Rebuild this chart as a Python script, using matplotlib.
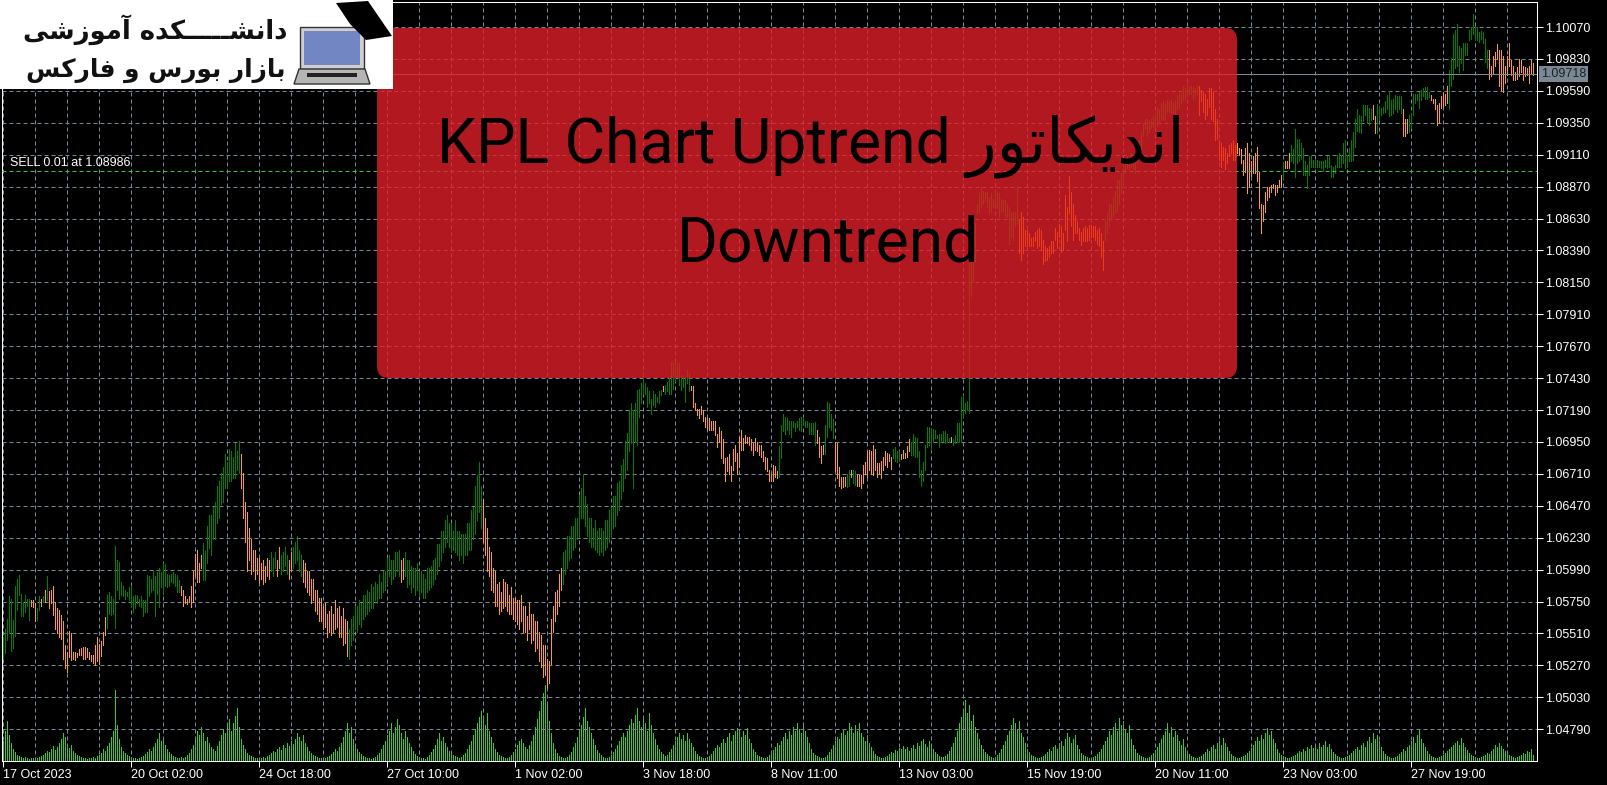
import numpy as np
import matplotlib
matplotlib.use("Agg")
import matplotlib.pyplot as plt
from matplotlib.patches import FancyBboxPatch, Rectangle, Polygon
from matplotlib.transforms import blended_transform_factory
from matplotlib.ticker import MultipleLocator
from matplotlib.font_manager import findfont, FontProperties
from matplotlib.ft2font import FT2Font

# ---------------- data (H1 bars, prices as pips above 1.0000) ----------------
bar_high_pips = [
548,554,562,579,577,561,587,592,595,581, 575,580,577,577,576,576,574,570,579,577,
579,584,594,583,584,587,575,570,569,565, 560,542,537,553,551,537,537,536,539,540,
541,541,540,537,535,535,542,548,543,545, 552,563,580,582,579,577,617,606,605,590,
587,584,582,586,586,579,580,580,577,579, 576,576,595,594,592,599,594,597,600,597,
604,603,596,595,596,597,596,595,591,587, 584,579,577,579,587,598,611,614,604,610,
619,613,632,640,
640,646,650,662,666,672,676,686,680,690, 688,684,694,688,696,686,672,650,642,630,
622,614,614,608,608,604,606,602,608,606, 612,608,612,606,616,610,612,616,610,606,
612,616,620,624,614,610,606,604,598,598, 592,592,584,584,578,578,572,574,566,568,
572,566,576,570,572,564,570,562,560,554, 562,564,572,572,576,574,580,580,584,582,
588,586,590,588,596,590,598,598,608,610, 606,606,612,612,614,606,608,612,606,606,
602,600,600,604,598,598,596,592,600,600, 602,606,608,618,618,628,628,636,640,634,
634,628,636,628,628,626,626,626,634,634, 644,646,662,670,680,662,652,638,630,616,
612,600,598,588,590,582,592,590,588,580, 586,578,578,576,576,580,572,572,564,574,
566,566,560,560,552,550,542,542,532,530, 562,572,582,584,596,600,612,614,624,624,
632,632,638,638,654,660,670,654,648,638, 638,630,636,628,630,630,628,636,636,644,
646,654,654,664,666,678,682,696,702,718, 724,
719,724,734,735,739,747,739,736,733,727,733,731,729,733,734,
737,738,740,743,755,755,755,754,754,745,743,744,749,747,737,
737,724,720,720,722,719,714,713,713,711,711,711,701,706,703,
697,683,684,686,677,690,693,687,699,704,698,700,699,699,697,
694,698,695,693,693,688,684,683,674,671,678,677,673,692,708,
716,714,713,711,711,711,709,711,713,714,714,711,711,709,709,
709,710,704,699,692,693,708,725,724,716,712,695,694,676,669,
669,669,671,674,674,674,673,671,670,670,678,680,688,689,688,
693,690,679,679,681,684,688,687,686,684,690,691,688,688,686,
689,687,692,697,695,701,699,698,688,674,680,693,706,706,705,
705,704,700,701,701,703,703,701,698,699,697,700,709,709,729,
730,724,726,835, 830,840,860,
874,882,887,884,883,883,879,882,878,884,883,882,878,
877,877,874,872,867,868,868,886,862,868, 864,854,854,852,848,849,853,854,856,854,
847,842,841,842,846,846,856,853,859,857, 852,881,872,895,883,874,866,861,856,853,
856,857,856,858,858,857,857,854,856,852, 846,861,867,874,874,879,884,891,892,897,
905,908,910,907,912,910,908,915,922,927, 935,938,938,936,938,940,942,946,945,950,
951,950,952,951,952,950,951,956,958,957, 963,961,965,963,963,962,961,963,963,960,
958,957,953,961,961,958,945,938,922,920, 917,916,912,918,920,922,918,
920,916,915,907,916,920,912,906,910,912, 917,898,874,873,883,887,887,888,889,888,
888,892,896,905,906,906,912,918,915,930, 923,923,920,916,906,903,910,910,907,907,
907,906,906,906,907,910,910,903,902,903, 911,912,911,920,922,911,916,922,928,938,
945,941,940,948,948,948,946,945,948,940, 949,947,946,947,951,956,959,952,953,956,
955,955,955,945,938,938,941,942,957,957, 957,958,960,961,962,962,958,956,953,953,
948,950,955,958,957,963,975,984,1002,1005, 1009,993,991,995,995,995,1005,1007,1017,1007,
1007,1003,1004,1003,998,990,990,978,985,988, 994,990,990,985,978,985,995,982,978,973,
977,983,982,978,977,976,978,982,980,
]
bar_low_pips = [
532,536,546,552,538,540,549,569,580,564, 564,567,572,561,572,571,560,561,569,572,
575,575,576,570,574,565,554,551,548,547, 532,525,522,533,531,532,531,533,535,535,
532,532,533,532,530,529,527,530,528,534, 542,550,555,566,565,566,555,584,577,580,
579,577,579,576,572,567,570,574,572,571, 564,567,567,579,582,584,564,581,571,586,
581,587,586,587,590,589,587,582,582,580, 572,574,573,575,571,575,594,590,590,600,
591,591,604,615,
610,622,622,634,638,648,650,660,660,666, 666,668,668,674,672,660,638,620,598,606,
596,598,592,596,590,592,588,590,594,592, 598,594,600,594,600,596,598,602,596,592,
598,600,604,606,598,594,590,586,582,580, 574,576,568,566,560,560,554,556,548,552,
550,552,554,556,548,548,542,544,534,532, 542,546,554,552,558,556,562,564,566,568,
570,570,576,574,578,578,582,584,588,594, 588,592,594,598,594,590,592,594,586,588,
582,586,580,584,580,582,578,578,582,584, 586,588,592,596,602,606,612,616,620,616,
612,614,612,610,606,610,604,610,610,614, 614,622,626,636,642,630,620,610,598,594,
584,582,572,572,566,568,570,572,568,566, 566,562,560,558,554,560,552,552,546,554,
544,546,538,540,530,526,518,520,510,514, 528,552,560,566,572,584,588,596,600,606,
608,614,616,622,624,638,638,632,624,620, 616,616,614,612,610,612,610,614,616,620,
624,630,632,640,644,652,658,668,674,688, 694,
660,695,693,714,724,731,731,721,724,716,723,721,725,724,730,
733,731,733,731,731,735,741,744,738,734,736,725,739,733,734,
721,719,715,713,716,711,706,705,704,704,704,700,691,695,683,
679,666,673,671,666,674,681,671,676,689,689,694,694,693,689,
685,689,688,685,684,681,675,673,666,666,666,669,668,669,683,
703,701,704,701,699,706,703,706,704,703,708,706,706,701,701,
701,693,694,684,679,686,686,699,706,704,698,673,668,662,660,
661,662,661,662,669,664,663,662,662,660,664,671,669,674,671,
670,674,669,671,668,674,678,676,681,675,683,681,680,681,682,
683,683,684,688,685,685,684,684,669,662,666,674,691,693,689,
696,698,698,691,695,696,694,695,695,695,693,694,695,695,695,
714,717,719,717, 805,815,830,
867,869,872,874,876,872,867,869,872,874,871,864,868,
869,864,864,844,849,847,857,859,837,832, 837,842,842,842,842,842,846,841,842,839,
829,831,832,834,837,837,847,841,849,838, 839,854,846,867,857,847,852,852,847,843,
846,846,846,847,849,849,847,844,842,834, 824,846,852,857,862,864,867,869,874,882,
887,897,901,900,902,900,897,905,910,915, 925,930,925,928,931,932,932,933,935,937,
938,937,943,943,942,942,941,945,947,950, 952,953,956,957,957,953,955,957,941,951,
943,938,941,947,938,936,922,923,907,902, 907,900,905,910,912,907,907,
912,911,905,896,898,882,887,895,897,897, 891,871,852,861,868,877,879,883,886,881,
883,887,887,893,901,901,901,906,905,894, 905,906,908,896,896,886,896,902,902,902,
902,902,901,899,902,901,902,894,894,897, 902,902,902,905,901,902,906,906,907,917,
929,928,927,936,941,935,933,937,938,927, 927,938,941,942,943,945,940,941,942,945,
943,945,942,925,925,927,928,931,941,950, 952,946,952,955,953,953,954,952,950,945,
933,935,946,947,948,950,945,963,968,976, 978,973,980,975,986,986,997,998,1002,997,
997,996,998,995,981,976,968,970,972,978, 983,963,960,958,965,971,978,971,967,967,
968,970,973,967,970,971,965,972,971,
]
# indicator state per run of bars: 'up' (green) / 'down' (orange)
trend_runs = [
('up',14),('down',3),('up',2),('down',1),('up',1),('down',1),('up',1),('down',29),
('up',37),('down',11),('up',19),('down',15),('up',3),('down',2),('up',4),('down',2),
('up',5),('down',23),('up',26),('down',2),('up',39),('down',40),('up',50),('down',1),
('up',13),('down',44),('up',19),('down',4),('up',5),('down',6),('up',2),('down',1),
('up',2),('down',18),('up',4),('down',5),('up',20),('down',1),('up',33),('down',43),
('up',47),('down',42),('up',1),('down',3),('up',41),('down',2),('up',13),('down',3),
('up',11),('down',9),('up',20),('down',23),
]
# tick volume (hundreds)
volume_hundreds = [
20,30,40,26,18,12,9,6,5,4, 3,4,3,2,3,3,2,3,4,5, 6,8,10,9,12,15,11,14,18,22,
28,24,17,13,16,10,8,6,5,4, 3,3,2,3,3,4,3,5,6,8, 12,10,15,18,24,30,71,36,22,14,
10,8,6,5,4,3,3,2,3,4, 5,7,9,12,10,14,18,22,28,20, 24,16,12,9,7,5,4,3,3,4,
3,4,6,8,12,16,22,30,26,34, 28,20,24,18,14,12,10,15,20,26, 32,28,36,42,30,38,45,53,34,22,
16,12,8,6,5,4,3,3,2,3, 4,3,5,6,8,10,9,12,14,11, 16,13,18,15,20,17,22,28,24,20,
26,18,14,10,8,6,5,4,3,3, 2,3,4,5,7,9,12,10,14,18, 24,30,38,28,34,22,16,12,9,7,
5,4,3,3,2,3,4,6,8,12, 16,20,26,30,38,28,34,42,36,28, 22,30,24,18,14,10,7,5,4,3,
3,2,4,6,9,12,16,22,28,20, 24,18,14,10,8,6,5,4,3,4, 6,8,12,16,20,26,32,38,44,50,
42,36,48,30,24,18,12,9,6,5, 4,3,3,4,6,9,12,16,20,22, 18,14,12,16,20,26,34,42,50,60,
68,76,58,40,28,18,12,8,5,4, 3,3,4,6,9,14,18,24,30,36, 44,53,40,34,28,22,16,11,8,6,
4,3,3,4,6,9,12,16,20,24, 28,24,30,36,42,38,46,53,40,34, 44,38,30,48,36,28,22,16,12,9,
7,5,6,9,12,16,20,24,28,22, 26,20,28,22,18,14,10,7,5,4, 3,3,4,5,7,10,13,16,14,18,
22,18,24,28,20,26,30,33,28,24, 30,26,33,22,18,12,9,6,5,4, 3,3,4,6,8,11,14,18,16,20,
24,28,22,30,26,34,30,38,32,28, 38,30,24,18,12,8,6,5,4,3, 3,4,6,9,12,16,20,24,22,28,
32,26,30,38,34,28,36,30,38,28, 24,20,26,18,14,10,7,5,4,3, 3,4,5,7,9,8,11,10,13,12,
15,12,14,10,13,16,12,18,15,20, 22,17,14,20,16,12,9,7,5,4, 4,5,7,10,14,18,24,30,38,44,
52,61,48,56,40,46,34,28,22,16, 12,9,7,5,4,3,4,6,8,12, 16,20,26,30,36,43,38,32,40,28,
24,18,12,9,6,5,4,3,3,4, 5,7,9,12,10,14,16,12,18,20, 15,22,28,24,18,22,26,16,12,8,
6,5,4,3,3,4,5,7,9,12, 16,20,24,30,26,34,38,30,43,36, 40,32,28,36,22,16,12,8,6,5,
4,3,3,4,6,8,11,14,18,22, 26,30,38,28,34,24,30,26,20,16, 22,14,10,7,5,4,3,3,4,5,
7,9,12,10,14,16,12,18,20,16, 23,18,14,10,7,5,4,3,3,4, 5,6,8,10,13,16,20,24,20,26,
22,28,33,26,30,22,18,12,8,6, 5,4,3,3,4,5,6,8,10,9, 12,10,14,12,16,13,15,12,18,14,
16,20,14,17,12,9,7,5,4,3, 3,4,5,6,8,10,12,14,11,16, 18,14,20,24,18,28,22,26,20,14,
10,7,5,4,3,3,4,5,7,9, 12,10,14,16,20,24,18,26,31,22, 18,14,10,7,5,4,3,3,4,5,
6,8,10,12,14,16,18,20,16,23, 18,14,11,8,6,5,4,3,3,4, 5,6,8,7,10,12,16,14,18,15,
12,10,8,6,5,4,3,4,5,6, 8,7,10,9,12,6,
]
price_tick_labels = ['1.10070','1.09830','1.09590','1.09350','1.09110','1.08870',
                     '1.08630','1.08390','1.08150','1.07910','1.07670','1.07430',
                     '1.07190','1.06950','1.06710','1.06470','1.06230','1.05990',
                     '1.05750','1.05510','1.05270','1.05030','1.04790']
time_tick_bars = [0, 64, 128, 192, 256, 320, 384, 448, 512, 576, 640, 704]
time_tick_labels = ['17 Oct 2023', '20 Oct 02:00', '24 Oct 18:00', '27 Oct 10:00',
                    '1 Nov 02:00', '3 Nov 18:00', '8 Nov 11:00', '13 Nov 03:00',
                    '15 Nov 19:00', '20 Nov 11:00', '23 Nov 03:00', '27 Nov 19:00']
current_price = 1.09718
order_price = 1.08986
order_label = 'SELL 0.01 at 1.08986'
title_latin = 'KPL Chart Uptrend'
title_persian = 'اندیکاتور'
title_line2 = 'Downtrend'
logo_line1 = 'دانشـــــکده آموزشی'
logo_line2 = 'بازار بورس و فارکس'

# ---------------- minimal Persian shaping (presentation forms, visual order) ----------------
_dv = FT2Font(findfont(FontProperties(family='DejaVu Sans')))
_has_fa = _dv.get_char_index(0xFB8E) != 0 and _dv.get_char_index(0xFBFC) != 0
FORMS = {
    '\u0627': ('\uFE8D', '\uFE8E', None, None),
    '\u0622': ('\uFE81', '\uFE82', None, None),
    '\u0628': ('\uFE8F', '\uFE90', '\uFE91', '\uFE92'),
    '\u062A': ('\uFE95', '\uFE96', '\uFE97', '\uFE98'),
    '\u062F': ('\uFEA9', '\uFEAA', None, None),
    '\u0631': ('\uFEAD', '\uFEAE', None, None),
    '\u0632': ('\uFEAF', '\uFEB0', None, None),
    '\u0633': ('\uFEB1', '\uFEB2', '\uFEB3', '\uFEB4'),
    '\u0634': ('\uFEB5', '\uFEB6', '\uFEB7', '\uFEB8'),
    '\u0641': ('\uFED1', '\uFED2', '\uFED3', '\uFED4'),
    '\u0645': ('\uFEE1', '\uFEE2', '\uFEE3', '\uFEE4'),
    '\u0646': ('\uFEE5', '\uFEE6', '\uFEE7', '\uFEE8'),
    '\u0647': ('\uFEE9', '\uFEEA', '\uFEEB', '\uFEEC'),
    '\u0648': ('\uFEED', '\uFEEE', None, None),
    '\u06A9': ('\uFB8E', '\uFB8F', '\uFB90', '\uFB91') if _has_fa else ('\uFED9', '\uFEDA', '\uFEDB', '\uFEDC'),
    '\u06CC': ('\uFBFC', '\uFBFD', '\uFBFE', '\uFBFF') if _has_fa else ('\uFEEF', '\uFEF0', '\uFEF3', '\uFEF4'),
}
TATWEEL = '\u0640'


def _joins_next(ch):
    return ch == TATWEEL or (ch in FORMS and FORMS[ch][2] is not None)


def _is_letter(ch):
    return ch == TATWEEL or ch in FORMS


def shape_rtl(s):
    out = []
    for k, ch in enumerate(s):
        if ch not in FORMS:
            out.append(ch)
            continue
        prev = s[k - 1] if k > 0 else ''
        nxt = s[k + 1] if k + 1 < len(s) else ''
        jp = prev != '' and _joins_next(prev)
        jn = _joins_next(ch) and nxt != '' and _is_letter(nxt)
        iso, fin, ini, med = FORMS[ch]
        out.append(med if (jp and jn) else fin if jp else ini if jn else iso)
    return ''.join(reversed(out))


# ---------------- figure ----------------
W, H = 1607, 785
PX = 72.0 / 100.0  # one pixel in points
fig = plt.figure(figsize=(W / 100, H / 100), dpi=100, facecolor='black')
rect = [2 / W, (H - 761) / H, 1535 / W, 759 / H]

axv = fig.add_axes(rect)
axv.set_zorder(1)
axv.set_facecolor('black')

ax = fig.add_axes(rect, sharex=axv)
ax.set_zorder(2)
ax.patch.set_visible(False)

n = len(bar_high_pips)
xb = np.arange(n)
hi = 1.0 + np.array(bar_high_pips) / 10000.0
lo = 1.0 + np.array(bar_low_pips) / 10000.0
cols = []
for state, cnt in trend_runs:
    cols += ['#008000' if state == 'up' else '#FFA500'] * cnt

# volumes
vol = np.array(volume_hundreds)
axv.vlines(xb[:len(vol)], 0, vol, colors='#32CD32', linewidth=PX, antialiased=False, snap=True)
axv.set_ylim(0, 759)
axv.axis('off')

# price bars
ax.vlines(xb, lo, hi, colors=cols, linewidth=PX, antialiased=False, snap=True, zorder=3)

ax.set_xlim(-0.6, 766.9)
ax.set_ylim(1.04551, 1.10258)

gridkw = dict(color='#778899', linestyle=(0, (4, 3)), linewidth=PX)
pt = [float(s) for s in price_tick_labels]
ax.set_yticks(pt)
ax.set_yticklabels(price_tick_labels)
ax.yaxis.tick_right()
ax.set_xticks(time_tick_bars)
ax.set_xticklabels(time_tick_labels, ha='left')
ax.xaxis.set_minor_locator(MultipleLocator(16))
ax.grid(True, axis='y', which='major', **gridkw)
ax.grid(True, axis='x', which='both', **gridkw)
ax.set_axisbelow(True)
for lab in ax.get_yticklabels() + ax.get_xticklabels():
    lab.set_fontfamily('Liberation Sans')
    lab.set_fontsize(9)
ax.tick_params(axis='y', which='major', colors='white', length=4, width=0.75, pad=1.5,
               right=True, left=False, labelright=True, labelleft=False)
ax.tick_params(axis='x', which='major', colors='white', length=4, width=0.75, pad=1.5)
ax.tick_params(axis='x', which='minor', length=0)
for sp in ax.spines.values():
    sp.set_color('white')
    sp.set_linewidth(0.75)

# current price line + label
ax.axhline(current_price, color='#778899', linewidth=PX, zorder=4)
btr = blended_transform_factory(ax.transAxes, ax.transData)
ax.text(1.0025, current_price, f'{current_price:.5f}', transform=btr, ha='left', va='center',
        fontsize=9, family='Liberation Sans', color='#1e1e1e', clip_on=False, zorder=6,
        bbox=dict(boxstyle='square,pad=0.18', fc='#7a8896', ec='none'))

# order line + label
ax.axhline(order_price, color='#32CD32', linewidth=PX, linestyle=(0, (4, 3)), zorder=4)
ax.annotate(order_label, xy=(0, order_price), xycoords=btr, xytext=(6, 1.5),
            textcoords='offset points', ha='left', va='bottom', fontsize=9,
            family='Liberation Sans', color='white', zorder=6)

# ---------------- overlay (title box + logo) in pixel coordinates ----------------
ov = fig.add_axes([0, 0, 1, 1])
ov.set_zorder(5)
ov.set_xlim(0, W)
ov.set_ylim(H, 0)
ov.axis('off')
ov.patch.set_visible(False)

r = 12
box = FancyBboxPatch((377 + r, 28 + r), 860 - 2 * r, 350 - 2 * r,
                     boxstyle=f'round,pad={r},rounding_size={r}',
                     fc=(0.90, 0.12, 0.16), ec='none', alpha=0.78)
ov.add_patch(box)
line1 = title_latin + ' ' + shape_rtl(title_persian)
ov.text(811, 162, line1, ha='center', va='baseline', fontsize=45,
        family=['Roboto', 'DejaVu Sans'], color='black')
ov.text(828, 262, title_line2, ha='center', va='baseline', fontsize=45,
        family=['Roboto', 'DejaVu Sans'], color='black')

# logo
ov.add_patch(Rectangle((0, 0), 393, 89, fc='white', ec='none'))
ov.text(155, 39, shape_rtl(logo_line1), ha='center', va='baseline', fontsize=18.6,
        family='DejaVu Sans', weight='bold', color='#111111')
ov.text(156, 77, shape_rtl(logo_line2), ha='center', va='baseline', fontsize=17.8,
        family='DejaVu Sans', weight='bold', color='#111111')
ov.add_patch(Rectangle((300, 27), 64, 42, fc='#cfcfcf', ec='#333333', lw=1))
ov.add_patch(Rectangle((304, 31), 56, 34, fc='#7386c4', ec='none'))
ov.add_patch(Polygon([(299, 69), (365, 69), (370, 84), (294, 84)], closed=True,
                     fc='#b5b5b5', ec='#333333', lw=1))
ov.add_patch(Rectangle((307, 73), 50, 4, fc='#222222', ec='none'))
ov.add_patch(Polygon([(336, 3), (368, 1), (392, 36), (366, 40), (350, 24)], closed=True,
                     fc='black', ec='none'))

fig.savefig('out.png', dpi=100, facecolor='black')
